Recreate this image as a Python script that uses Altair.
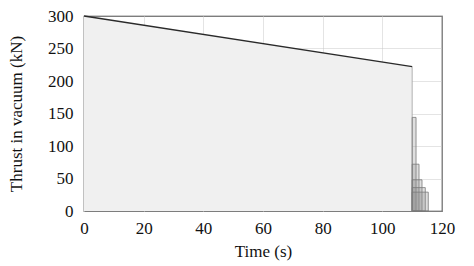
import altair as alt
import pandas as pd

# Main burn phase (linear decrease of thrust)
burn_time = [0, 110]
burn_thrust = [300, 222]

# Tail-off steps after main cutoff
tail_start = [110, 110, 110, 110, 110]
tail_end = [111.3, 112.3, 113.3, 114.4, 115.4]
tail_thrust = [144, 72, 48, 36, 29]

x_ticks = [0, 20, 40, 60, 80, 100, 120]
y_ticks = [0, 50, 100, 150, 200, 250, 300]

burn = pd.DataFrame({"t": burn_time, "F": burn_thrust})
burn_end = burn.iloc[[-1]]
tail = pd.DataFrame({"t0": tail_start, "t1": tail_end, "F": tail_thrust})

FONT = "Liberation Serif"

xs = alt.Scale(domain=[0, 120], nice=False)
ys = alt.Scale(domain=[0, 300], nice=False)

common = dict(
    format="d",
    domain=False,
    ticks=False,
    grid=True,
    gridColor="#c8c8c8",
    gridDash=[1, 1],
    gridWidth=1,
    labelFont=FONT,
    labelFontSize=17,
    labelColor="#111111",
    labelFlush=False,
    labelOverlap=False,
    titleFont=FONT,
    titleFontSize=17,
    titleFontWeight="normal",
    titleColor="#111111",
)
xax = alt.Axis(values=x_ticks, title="Time (s)", labelPadding=9, titlePadding=7, **common)
yax = alt.Axis(values=y_ticks, title="Thrust in vacuum (kN)", labelPadding=11, titlePadding=22, **common)

area = alt.Chart(burn).mark_area(color="#f0f0f0").encode(
    x=alt.X("t:Q", scale=xs, axis=xax),
    y=alt.Y("F:Q", scale=ys, axis=yax),
)
line = alt.Chart(burn).mark_line(color="#2a2a2a", strokeWidth=1.3).encode(
    x=alt.X("t:Q", scale=xs, axis=xax),
    y=alt.Y("F:Q", scale=ys, axis=yax),
)
edge = alt.Chart(burn_end).mark_rule(color="#a0a0a0", strokeWidth=0.8).encode(
    x=alt.X("t:Q", scale=xs, axis=xax),
    y=alt.Y("F:Q", scale=ys, axis=yax),
    y2=alt.datum(0),
)
bars = alt.Chart(tail).mark_rect(
    fill="#8c8c8c", fillOpacity=0.28, stroke="#7a7a7a", strokeWidth=0.8
).encode(
    x=alt.X("t0:Q", scale=xs, axis=xax),
    x2="t1:Q",
    y=alt.Y("F:Q", scale=ys, axis=yax),
    y2=alt.datum(0),
)

chart = (
    alt.layer(area, edge, bars, line)
    .properties(
        width=358,
        height=195,
        autosize=alt.AutoSizeParams(type="none"),
        padding={"left": 84, "top": 16, "right": 32, "bottom": 55},
        background="white",
    )
    .configure_view(stroke="#333333", strokeWidth=1.2)
    .configure_axis(labelFont=FONT, titleFont=FONT)
)

chart.save("out.html", embed_options={"renderer": "svg", "actions": False})
